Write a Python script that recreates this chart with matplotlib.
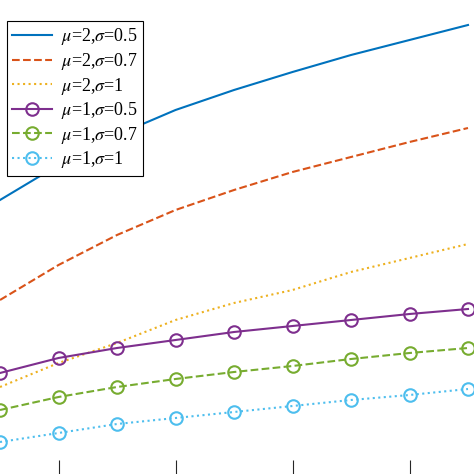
import matplotlib
matplotlib.use("Agg")
import matplotlib.pyplot as plt

plt.rcParams['font.family'] = ['Liberation Serif', 'DejaVu Serif']
plt.rcParams['mathtext.fontset'] = 'stix'

x = [1, 2, 3, 4, 5, 6, 7, 8, 9]
labels = [r'$\mu$=2,$\sigma$=0.5', r'$\mu$=2,$\sigma$=0.7', r'$\mu$=2,$\sigma$=1',
          r'$\mu$=1,$\sigma$=0.5', r'$\mu$=1,$\sigma$=0.7', r'$\mu$=1,$\sigma$=1']
# values in image-height units (higher = up)
s1 = [274, 309, 339, 364, 384, 402, 419, 434, 449]
s2 = [174, 209, 239, 264, 284, 302, 317, 332, 346]
s3 = [87, 111, 131, 154, 171, 184, 202, 216, 230]
s4 = [101, 116, 126, 134, 142, 148, 154, 160, 165]
s5 = [64, 77, 87, 95, 102, 108, 115, 121, 126]
s6 = [32, 41, 50, 56, 62, 68, 74, 79, 85]
series = [s1, s2, s3, s4, s5, s6]
colors = ['#0072BD', '#D95319', '#EDB120', '#7E2F8E', '#77AC30', '#4DBEEE']
styles = ['-', '--', ':', '-', '--', ':']
markers = [None, None, None, 'o', 'o', 'o']

fig = plt.figure(figsize=(4.74, 4.74), dpi=100)
ax = fig.add_axes([0, 0, 1, 1])
for s, c, ls, m, lab in zip(series, colors, styles, markers, labels):
    ax.plot(x, s, color=c, ls=ls, lw=1.5, marker=m, markersize=9,
            markerfacecolor='none', markeredgewidth=1.5, label=lab)
ax.set_xlim(1, 1 + 474 / 58.5)
ax.set_ylim(0, 474)
ax.set_xticks([2, 4, 6, 8])
ax.set_yticks([])
ax.tick_params(axis='x', direction='in', length=10, labelbottom=False, color='#262626')
for sp in ['left', 'top', 'right', 'bottom']:
    ax.spines[sp].set_visible(False)
leg = ax.legend(loc='upper left', bbox_to_anchor=(-0.005, 0.975), fontsize=13,
                frameon=True, fancybox=False, edgecolor='black', framealpha=1,
                handlelength=2.2, borderpad=0.3, labelspacing=0.2, handletextpad=0.5)
leg.get_frame().set_linewidth(0.8)
fig.savefig('out.png', dpi=100)
